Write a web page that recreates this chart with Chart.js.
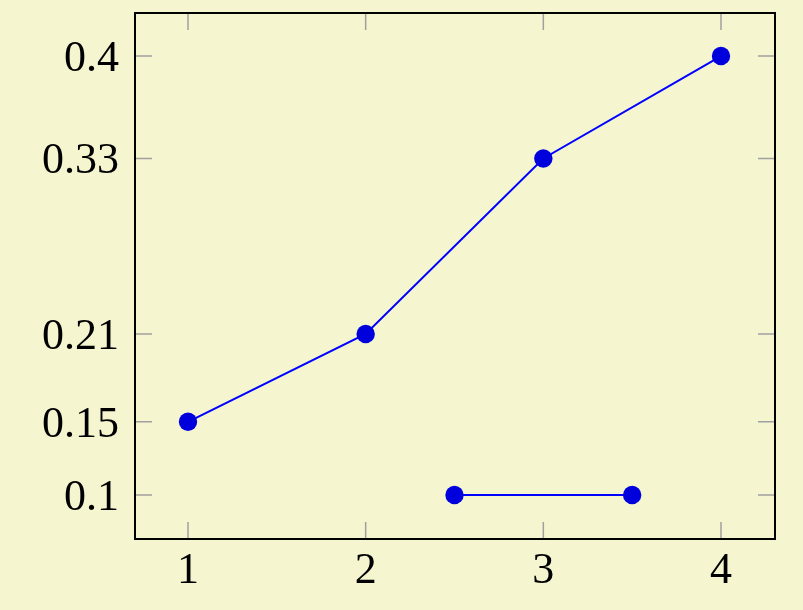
<!DOCTYPE html>
<html><head><meta charset="utf-8">
<script src="https://cdn.jsdelivr.net/npm/chart.js@4"></script>
<style>html,body{margin:0;padding:0;background:#f5f5d0;}#wrap{width:803px;height:610px;}</style>
</head><body><div id="wrap"><canvas id="c" width="803" height="610"></canvas></div>
<script>
const xTicks = [1, 2, 3, 4];
const yTicks = [0.1, 0.15, 0.21, 0.33, 0.4];
const seriesA_x = [1, 2, 3, 4];
const seriesA_y = [0.15, 0.21, 0.33, 0.4];
const seriesB_x = [2.5, 3.5];
const seriesB_y = [0.1, 0.1];

const toPts = (xs, ys) => xs.map((x, i) => ({x: x, y: ys[i]}));
const FONT = '44px "Liberation Serif"';

const frame = {
  id: 'frame',
  afterDatasetsDraw(chart) {
    const {ctx, chartArea: a, scales} = chart;
    const L = 17;
    ctx.save();
    ctx.strokeStyle = '#a0a0a0';
    ctx.lineWidth = 1.5;
    ctx.beginPath();
    xTicks.forEach(v => {
      const px = scales.x.getPixelForValue(v);
      ctx.moveTo(px, a.bottom); ctx.lineTo(px, a.bottom - L);
      ctx.moveTo(px, a.top); ctx.lineTo(px, a.top + L);
    });
    yTicks.forEach(v => {
      const py = scales.y.getPixelForValue(v);
      ctx.moveTo(a.left, py); ctx.lineTo(a.left + L, py);
      ctx.moveTo(a.right, py); ctx.lineTo(a.right - L, py);
    });
    ctx.stroke();
    ctx.strokeStyle = '#000';
    ctx.lineWidth = 2;
    ctx.strokeRect(a.left, a.top, a.right - a.left, a.bottom - a.top);
    ctx.fillStyle = '#000';
    ctx.font = FONT;
    ctx.textBaseline = 'alphabetic';
    ctx.textAlign = 'center';
    xTicks.forEach(v => {
      ctx.fillText(String(v), scales.x.getPixelForValue(v), a.bottom + 44);
    });
    ctx.textAlign = 'right';
    yTicks.forEach(v => {
      ctx.fillText(String(v), a.left - 16, scales.y.getPixelForValue(v) + 15);
    });
    ctx.restore();
  }
};

const ds = (data) => ({
  data, borderColor: '#0000ff', borderWidth: 2, backgroundColor: '#0000dd',
  pointBackgroundColor: '#0000dd', pointBorderColor: '#0000dd', pointRadius: 9.2, pointBorderWidth: 0,
  showLine: true, tension: 0, clip: false
});

new Chart(document.getElementById('c'), {
  type: 'scatter',
  data: { datasets: [ ds(toPts(seriesA_x, seriesA_y)), ds(toPts(seriesB_x, seriesB_y)) ] },
  options: {
    responsive: false, animation: false, devicePixelRatio: 1,
    layout: { padding: { top: 13, right: 28, left: 0, bottom: 0 } },
    plugins: { legend: { display: false }, tooltip: { enabled: false } },
    scales: {
      x: {
        type: 'linear', min: 0.7017, max: 4.304,
        afterBuildTicks: s => { s.ticks = xTicks.map(v => ({value: v})); },
        afterFit: s => { s.height = 71; },
        grid: { display: false, drawTicks: false }, border: { display: false },
        ticks: { display: false }
      },
      y: {
        type: 'linear', min: 0.0699, max: 0.4294,
        afterBuildTicks: s => { s.ticks = yTicks.map(v => ({value: v})); },
        afterFit: s => { s.width = 135; },
        grid: { display: false, drawTicks: false }, border: { display: false },
        ticks: { display: false }
      }
    }
  },
  plugins: [frame]
});
</script></body></html>
